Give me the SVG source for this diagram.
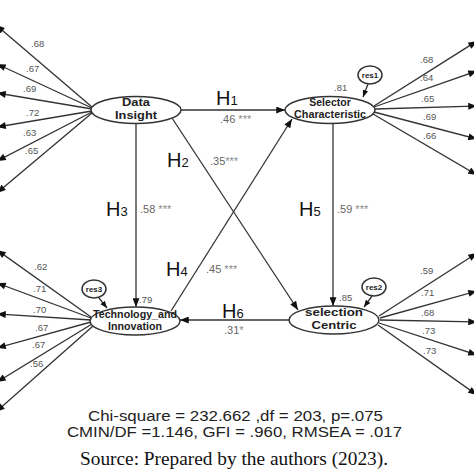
<svg xmlns="http://www.w3.org/2000/svg" width="474" height="474" viewBox="0 0 474 474">
<defs>
<marker id="ah" viewBox="0 0 10 8" refX="10" refY="4" markerWidth="10" markerHeight="7" markerUnits="userSpaceOnUse" orient="auto">
<path d="M0,0 L10,4 L0,8 z" fill="#111"/>
</marker>
<marker id="ahs" viewBox="0 0 10 8" refX="10" refY="4" markerWidth="7" markerHeight="6" markerUnits="userSpaceOnUse" orient="auto">
<path d="M0,0 L10,4 L0,8 z" fill="#111"/>
</marker>
</defs>
<style>
.ln{stroke:#333;stroke-width:1.3;fill:none}
.ar{marker-end:url(#ah)}
.ars{marker-end:url(#ahs)}
.el{fill:#fff;stroke:#333;stroke-width:1.5}
.nt{font-family:"Liberation Sans",Arial,sans-serif;font-weight:bold;fill:#222;text-anchor:middle}
.rt{font-family:"Liberation Sans",Arial,sans-serif;font-weight:bold;font-size:8px;fill:#222;text-anchor:middle}
.ld{font-family:"Liberation Sans",Arial,sans-serif;font-size:9.5px;fill:#555}
.hl{font-family:"Liberation Sans",Arial,sans-serif;font-size:20px;fill:#111}
.hs{font-size:13px}
.cf{font-family:"Liberation Sans",Arial,sans-serif;font-size:11px;fill:#666}
.sr{fill:#888}
.st{font-family:"Liberation Sans",Arial,sans-serif;font-size:14px;fill:#222;text-anchor:middle}
.src{font-family:"Liberation Serif","Times New Roman",serif;font-size:18px;fill:#111;text-anchor:middle}
</style>
<rect width="474" height="474" fill="#fff"/>
<g id="connectors">
<path class="ln ar" d="M92,107 L-4,25"/>
<path class="ln ar" d="M92,108 L-3,64"/>
<path class="ln ar" d="M92,109 L-3,93"/>
<path class="ln ar" d="M92,111 L-3,127"/>
<path class="ln ar" d="M92,112 L-3,161"/>
<path class="ln ar" d="M92,113 L-3,193"/>
<path class="ln ar" d="M374,106 L477,41"/>
<path class="ln ar" d="M374,107 L477,71"/>
<path class="ln ar" d="M375,109 L477,106"/>
<path class="ln ar" d="M374,112 L477,139"/>
<path class="ln ar" d="M373,114 L477,175"/>
<path class="ln ar" d="M91,317 L-3,250"/>
<path class="ln ar" d="M91,318 L-3,283"/>
<path class="ln ar" d="M91,320 L-3,314"/>
<path class="ln ar" d="M91,322 L-3,348"/>
<path class="ln ar" d="M92,324 L-3,382"/>
<path class="ln ar" d="M93,326 L-4,412"/>
<path class="ln ar" d="M379,316 L477,253"/>
<path class="ln ar" d="M380,318 L477,291"/>
<path class="ln ar" d="M380,320 L477,322"/>
<path class="ln ar" d="M379,323 L477,355"/>
<path class="ln ar" d="M378,325 L477,395"/>
<path class="ln ar" d="M181,110 L285,110"/>
<path class="ln ar" d="M172,118 L298,310"/>
<path class="ln ar" d="M136,124 L136,307"/>
<path class="ln ar" d="M171,311 L292,119"/>
<path class="ln ar" d="M333,124 L333,306"/>
<path class="ln ar" d="M289,320 L180,320"/>
<path class="ln ars" d="M368,84 L363,97"/>
<path class="ln ars" d="M99,298 L107,308"/>
<path class="ln ars" d="M372,296 L364,307"/>
</g>
<g id="data_insight">
<ellipse class="el" cx="136" cy="110" rx="45" ry="13.5"/>
<text class="nt" font-size="11.5" x="136" y="105.5" textLength="28" lengthAdjust="spacingAndGlyphs">Data</text>
<text class="nt" font-size="11.5" x="136" y="118.5" textLength="42" lengthAdjust="spacingAndGlyphs">Insight</text>
</g>
<g id="selector_characteristic">
<ellipse class="el" cx="330" cy="110" rx="45" ry="13.5"/>
<text class="nt" font-size="10.5" x="330" y="106">Selector</text>
<text class="nt" font-size="10.5" x="330" y="118" textLength="72" lengthAdjust="spacingAndGlyphs">Characteristic</text>
</g>
<g id="technology_innovation">
<ellipse class="el" cx="135" cy="321" rx="45" ry="14"/>
<text class="nt" font-size="10.5" x="135" y="318" textLength="84" lengthAdjust="spacingAndGlyphs">Technology_and</text>
<text class="nt" font-size="10.5" x="135" y="330" textLength="54" lengthAdjust="spacingAndGlyphs">Innovation</text>
</g>
<g id="selection_centric">
<ellipse class="el" cx="334" cy="320" rx="45" ry="14"/>
<text class="nt" font-size="11.5" x="334" y="316" textLength="58" lengthAdjust="spacingAndGlyphs">selection</text>
<text class="nt" font-size="11.5" x="334" y="329" textLength="45" lengthAdjust="spacingAndGlyphs">Centric</text>
</g>
<g id="res1">
<ellipse class="el" cx="370" cy="75" rx="12" ry="9"/>
<text class="rt" x="370" y="78">res1</text>
</g>
<g id="res3">
<ellipse class="el" cx="94" cy="289" rx="12" ry="9"/>
<text class="rt" x="94" y="292">res3</text>
</g>
<g id="res2">
<ellipse class="el" cx="374" cy="287" rx="12" ry="9"/>
<text class="rt" x="374" y="290">res2</text>
</g>
<g id="loadings">
<text class="ld" x="31" y="47">.68</text>
<text class="ld" x="26" y="72">.67</text>
<text class="ld" x="23" y="92">.69</text>
<text class="ld" x="26" y="116">.72</text>
<text class="ld" x="23" y="136">.63</text>
<text class="ld" x="25" y="154">.65</text>
<text class="ld" x="420" y="63">.68</text>
<text class="ld" x="420" y="81">.64</text>
<text class="ld" x="421" y="102">.65</text>
<text class="ld" x="423" y="120">.69</text>
<text class="ld" x="423" y="139">.66</text>
<text class="ld" x="334" y="91">.81</text>
<text class="ld" x="34" y="270">.62</text>
<text class="ld" x="33" y="292">.71</text>
<text class="ld" x="33" y="313">.70</text>
<text class="ld" x="35" y="331">.67</text>
<text class="ld" x="32" y="348">.67</text>
<text class="ld" x="30" y="367">.56</text>
<text class="ld" x="139" y="303">.79</text>
<text class="ld" x="420" y="274">.59</text>
<text class="ld" x="421" y="296">.71</text>
<text class="ld" x="421" y="316">.68</text>
<text class="ld" x="422" y="334">.73</text>
<text class="ld" x="423" y="354">.73</text>
<text class="ld" x="339" y="301">.85</text>
</g>
<g id="hypotheses">
<text class="hl" x="216" y="105">H<tspan class="hs">1</tspan></text>
<text class="cf" x="220" y="123">.46 <tspan class="sr">***</tspan></text>
<text class="hl" x="167" y="167">H<tspan class="hs">2</tspan></text>
<text class="cf" x="210" y="165">.35<tspan class="sr">***</tspan></text>
<text class="hl" x="106" y="216">H<tspan class="hs">3</tspan></text>
<text class="cf" x="140" y="213">.58 <tspan class="sr">***</tspan></text>
<text class="hl" x="166" y="276">H<tspan class="hs">4</tspan></text>
<text class="cf" x="206" y="273">.45 <tspan class="sr">***</tspan></text>
<text class="hl" x="299" y="216">H<tspan class="hs">5</tspan></text>
<text class="cf" x="337" y="213">.59 <tspan class="sr">***</tspan></text>
<text class="hl" x="222" y="318">H<tspan class="hs">6</tspan></text>
<text class="cf" x="224" y="334">.31<tspan class="sr">*</tspan></text>
</g>
<g id="fit">
<text class="st" x="235.5" y="421" textLength="295" lengthAdjust="spacingAndGlyphs">Chi-square = 232.662 ,df = 203, p=.075</text>
<text class="st" x="234.5" y="437" textLength="335" lengthAdjust="spacingAndGlyphs">CMIN/DF =1.146, GFI = .960, RMSEA = .017</text>
<text class="src" x="234" y="465" textLength="308" lengthAdjust="spacingAndGlyphs">Source: Prepared by the authors (2023).</text>
</g>
</svg>
